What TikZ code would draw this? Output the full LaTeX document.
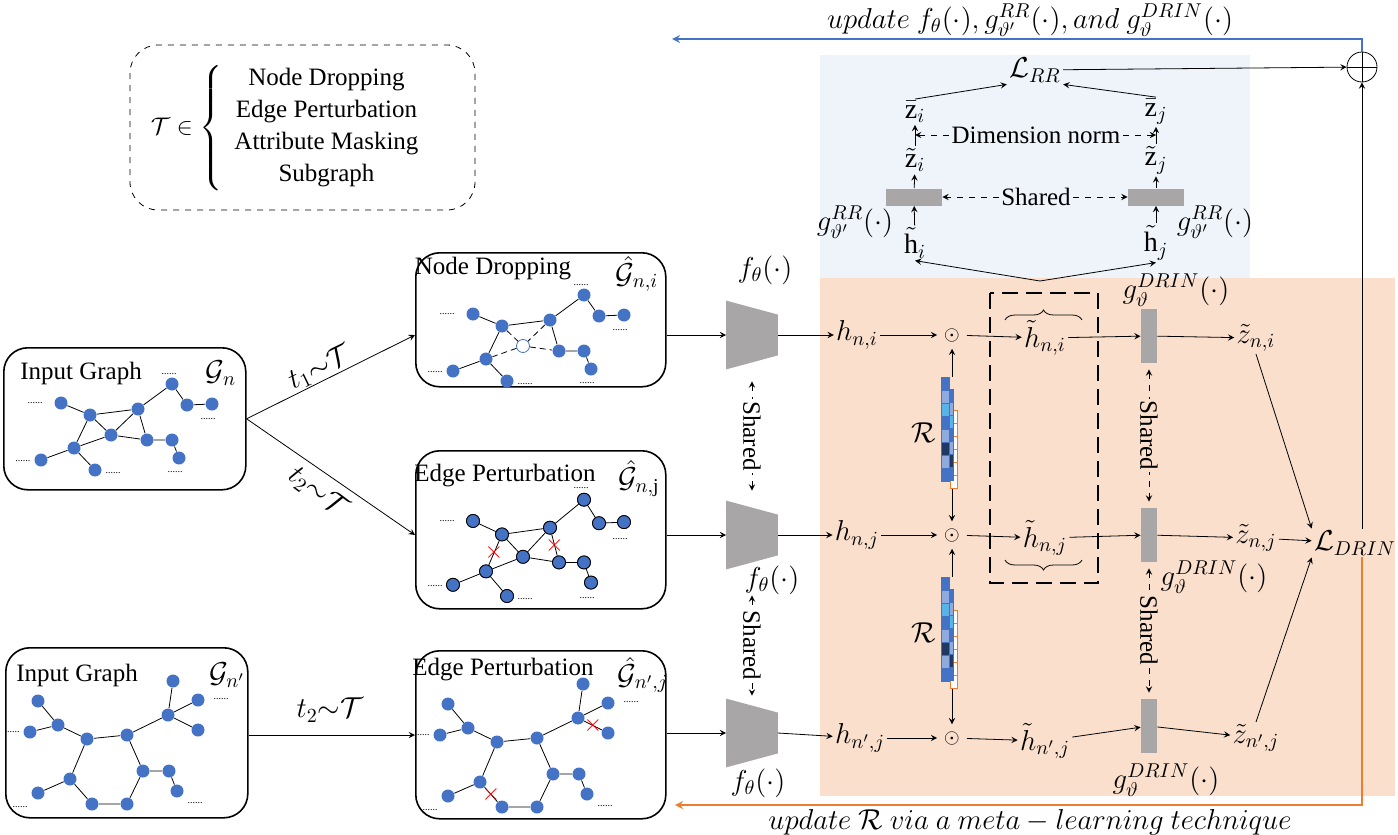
\documentclass[tikz,border=0pt]{standalone}
\usepackage{fontspec}
\setmainfont{Liberation Serif}
\usepackage{amssymb}
\usepackage{amsmath}
\usetikzlibrary{calc,positioning,decorations.pathreplacing}
\definecolor{nodeblue}{RGB}{68,114,196}
\definecolor{orangebg}{RGB}{250,224,204}
\definecolor{bluebg}{RGB}{238,244,250}
\definecolor{lineblue}{RGB}{68,114,196}
\definecolor{lineorange}{RGB}{237,125,49}
\definecolor{barg}{RGB}{168,166,166}
\definecolor{rdark}{RGB}{31,56,100}
\definecolor{rmid}{RGB}{68,114,196}
\definecolor{rlight}{RGB}{143,170,220}
\definecolor{rcyan}{RGB}{86,180,233}
\definecolor{rbrown}{RGB}{197,90,17}
\tikzset{
  gbox/.style={draw,thick,rounded corners=12pt,inner sep=0,anchor=north west},
  gn/.style={circle,fill=nodeblue,inner sep=0,minimum size=6.5pt},
  gnb/.style={gn,draw=black,thin},
  gno/.style={circle,draw=nodeblue,fill=white,inner sep=0,minimum size=6.5pt},
  gdots/.style={font=\tiny,inner sep=0},
  cut/.style={text=red,inner sep=0,font=\large},
  lab/.style={font=\fontsize{12.5}{14}\selectfont,inner sep=1pt},
  mlab/.style={font=\fontsize{14}{16}\selectfont,inner sep=1pt},
  enc/.style={inner sep=0,minimum width=25.5pt,minimum height=34pt},
  bar/.style={fill=barg,inner sep=0,minimum width=8pt,minimum height=27pt},
  rrbar/.style={fill=barg,inner sep=0,minimum width=28pt,minimum height=8.5pt},
  arr/.style={->,>=stealth},
  sh/.style={<->,>=stealth,dashed,thin},
}
% layout of the first graph (local coordinates in the box)
\newcommand{\graphone}[1]{%
  \foreach \n/\x/\y in {A/58/58,B/87/70,C/135/64,D/169/39,E/184/60,F/209/59,H/144/95,I/169/95,J/176/113,K/71/103,L/38/115,M/92/125}
    \node[#1] (\n) at (\x,\y) {};
  \node[gdots] at (32,58) {......};
  \node[gdots] at (166,29) {......};
  \node[gdots] at (205,74) {......};
  \node[gdots] at (172,127) {......};
  \node[gdots] at (20,116) {......};
  \node[gdots] at (110,128) {......};
}
% layout of the second graph
\newcommand{\graphtwo}{%
  \foreach \n/\x/\y in {a/33/54,b/25/85,c/53/78,d/82/92,e/122/88,f/163/68,g/168/34,h/193/53,i/193/83,j/65/132,k/33/146,l/87/157,m/122/157,n/138/124,o/164/124,p/172/144}
    \node[gn] (\n) at (\x,\y) {};
  \draw (a)--(c) (b)--(c) (c)--(d) (d)--(e) (e)--(f) (f)--(g) (f)--(h) (f)--(i)
        (d)--(j) (j)--(k) (j)--(l) (l)--(m) (m)--(n) (e)--(n) (n)--(o) (o)--(p);
  \node[gdots] at (7,85) {......};
  \node[gdots] at (216,52) {......};
  \node[gdots] at (15,160) {......};
  \node[gdots] at (190,156) {......};
}
\begin{document}
\begin{tikzpicture}[x=0.5pt,y=-0.5pt]
\useasboundingbox (0,0) rectangle (1398,835);
% backgrounds
\fill[bluebg] (820,55) rectangle (1250,278);
\fill[orangebg] (820,278) rectangle (1395,796);

% augmentation set
\draw[dashed,rounded corners=14pt] (130,45) rectangle (475,210);
\node (tset) at (188,128) {\fontsize{13}{15}\selectfont$\mathcal{T}\in\left\{\rule{0pt}{33pt}\right.$};
\node[lab,right=0pt of tset,align=center] (tlist) {Node Dropping\\[2pt]Edge Perturbation\\[2pt]Attribute Masking\\[2pt]Subgraph};

% graph boxes
\node[gbox,minimum width=121pt,minimum height=71pt] (in1) at (3,347) {};
\node[gbox,minimum width=125pt,minimum height=67pt] (nd) at (415,252) {};
\node[gbox,minimum width=125pt,minimum height=79pt] (ep) at (415,450) {};
\node[gbox,minimum width=121pt,minimum height=85pt] (in2) at (5,647) {};
\node[gbox,minimum width=125pt,minimum height=84pt] (ep2) at (415,650) {};

\begin{scope}[shift={(3,345)}]
  \graphone{gn}
  \draw (A)--(B) (B)--(C) (C)--(D) (D)--(E) (E)--(F) (C)--(H) (H)--(I) (I)--(J) (B)--(K) (K)--(L) (K)--(M);
  \node[gn] (G) at (108,90) {};
  \draw (B)--(G) (C)--(G) (G)--(H) (G)--(K);
  \node[lab] at (78,28) {Input Graph};
  \node[mlab] at (218,28) {$\mathcal{G}_n$};
\end{scope}
\begin{scope}[shift={(415,256)}]
  \graphone{gn}
  \draw (A)--(B) (B)--(C) (C)--(D) (D)--(E) (E)--(F) (C)--(H) (H)--(I) (I)--(J) (B)--(K) (K)--(L) (K)--(M);
  \node[gno] (G) at (108,90) {};
  \draw[densely dashed] (B)--(G) (C)--(G) (G)--(H) (G)--(K);
  \node[lab] at (78,13) {Node Dropping};
  \node[mlab] at (222,18) {$\hat{\mathcal{G}}_{n,i}$};
\end{scope}
\begin{scope}[shift={(415,456)},yscale=1.12]
  \graphone{gnb}
  \draw (A)--(B) (B)--(C) (C)--(D) (D)--(E) (E)--(F) (C)--(H) (H)--(I) (I)--(J) (B)--(K) (K)--(L) (K)--(M);
  \node[gnb] (G) at (108,90) {};
  \draw (B)--(G) (C)--(G) (G)--(H) (G)--(K);
  \foreach \n in {A,...,F,G,H,I,J,K,L,M} \node[gnb] at (\n) {};
  \node[cut] at ($(B)!0.5!(K)$) {$\times$};
  \node[cut] at ($(C)!0.5!(H)$) {$\times$};
  \node[lab] at (90,17) {Edge Perturbation};
  \node[mlab] at (224,20) {$\hat{\mathcal{G}}_{n,\mathrm{j}}$};
\end{scope}
\begin{scope}[shift={(5,647)}]
  \graphtwo
  \node[lab] at (72,28) {Input Graph};
  \node[mlab] at (222,28) {$\mathcal{G}_{n'}$};
\end{scope}
\begin{scope}[shift={(415,650)}]
  \graphtwo
  \node[cut] at ($(f)!0.5!(i)$) {$\times$};
  \node[cut] at ($(j)!0.5!(l)$) {$\times$};
  \node[lab] at (88,20) {Edge Perturbation};
  \node[mlab] at (228,25) {$\hat{\mathcal{G}}_{n',j}$};
\end{scope}

% augmentations
\draw[arr] (in1.east) -- (nd.west |- 0,335) coordinate (ndin);
\draw[arr] (in1.east) -- (ep.west |- 0,535) coordinate (epin);
\draw[arr] (in2.east |- 0,735) coordinate (in2out) -- (ep2.west |- 0,735);
\node[mlab,rotate=26] at (320,368) {$t_1{\sim}\mathcal{T}$};
\node[mlab,rotate=-37] at (318,492) {$t_2{\sim}\mathcal{T}$};
\node[mlab] at (330,710) {$t_2{\sim}\mathcal{T}$};

% encoders
\foreach \r/\y in {i/335,j/535,k/733}{
  \node[enc] (f\r) at (752,\y) {};
  \fill[barg] (f\r.north west) -- ($(f\r.north east)+(0,14)$) -- ($(f\r.south east)+(0,-14)$) -- (f\r.south west) -- cycle;
}
\draw[arr] (nd.east |- fi) -- (fi.west);
\draw[arr] (ep.east |- fj) -- (fj.west);
\draw[arr] (ep2.east |- fk) -- (fk.west);
\node[mlab] at (765,270) {$f_{\theta}(\cdot)$};
\node[mlab] at (772,580) {$f_{\theta}(\cdot)$};
\node[mlab] at (758,783) {$f_{\theta}(\cdot)$};
\draw[sh] ($(fi.south)+(0,12)$) -- ($(fj.north)+(0,-10)$) node[midway,sloped,fill=white,inner sep=1pt,font=\fontsize{12.5}{14}\selectfont] {Shared};
\draw[sh] ($(fj.south)+(0,26)$) -- ($(fk.north)+(0,-3)$) node[midway,sloped,fill=white,inner sep=1pt,font=\fontsize{12.5}{14}\selectfont] {Shared};

% rows
\node[mlab] (hi) at (857,335) {$h_{n,i}$};
\node[mlab] (hj) at (857,535) {$h_{n,j}$};
\node[mlab] (hk) at (860,738) {$h_{n',j}$};
\node (oi) at (952,335) {$\odot$};
\node (oj) at (952,535) {$\odot$};
\node (ok) at (952,738) {$\odot$};
\node[mlab] (thi) at (1045,338) {$\tilde{h}_{n,i}$};
\node[mlab] (thj) at (1045,538) {$\tilde{h}_{n,j}$};
\node[mlab] (thk) at (1045,741) {$\tilde{h}_{n',j}$};
\node[bar] (gi) at (1149,336) {};
\node[bar] (gj) at (1149,535) {};
\node[bar] (gk) at (1149,726) {};
\node[mlab] (zi) at (1256,338) {$\tilde{z}_{n,i}$};
\node[mlab] (zj) at (1256,538) {$\tilde{z}_{n,j}$};
\node[mlab] (zk) at (1256,738) {$\tilde{z}_{n',j}$};
\node[mlab] (ld) at (1355,543) {$\mathcal{L}_{DRIN}$};
\foreach \r in {i,j,k}{
  \draw[arr] (f\r.east) -- (h\r);
  \draw[arr] (h\r) -- (o\r);
  \draw[arr] (o\r) -- (th\r);
  \draw[arr] (th\r) -- (g\r);
  \draw[arr] (g\r) -- (z\r);
}
\draw[arr] (zi.south) -- (ld.north west);
\draw[arr] (zj) -- (ld);
\draw[arr] (zk.north) -- (ld.south west);
\node[mlab] at (1176,290) {$g_{\vartheta}^{DRIN}(\cdot)$};
\node[mlab] at (1214,577) {$g_{\vartheta}^{DRIN}(\cdot)$};
\node[mlab] at (1166,780) {$g_{\vartheta}^{DRIN}(\cdot)$};
\draw[sh] ($(gi.south)+(0,6)$) -- ($(gj.north)+(0,-6)$) node[midway,sloped,fill=orangebg,inner sep=1pt,font=\fontsize{12.5}{14}\selectfont] {Shared};
\draw[sh] ($(gj.south)+(0,6)$) -- ($(gk.north)+(0,-6)$) node[midway,sloped,fill=orangebg,inner sep=1pt,font=\fontsize{12.5}{14}\selectfont] {Shared};

% R matrices
\foreach \y/\nm in {377/r1,577/r2}{
  \foreach \k in {0,...,5} \draw[lineorange,fill=white] (950,\y+33+\k*13) rectangle ++(7,13);
  \foreach \k/\c in {0/rmid,1/rlight,2/rcyan,3/rmid,4/rlight,5/rdark,6/rmid}
    \draw[rmid,fill=\c] (945,\y+12+\k*13) rectangle ++(8,13);
  \foreach \k/\c in {0/rmid,1/rlight,2/rcyan,3/rmid,4/rlight,5/rdark,6/rlight,7/rmid}
    \draw[rmid,fill=\c] (941,\y+\k*13) rectangle ++(8,13);
  \node[inner sep=0,minimum width=8pt,minimum height=56pt] (\nm) at (949,\y+56) {};
  \node[mlab,left=1pt of \nm] {$\mathcal{R}$};
}
\draw[arr] (r1.north -| oi) -- (oi);
\draw[arr] (r1.south -| oi) -- (oj);
\draw[arr] (r2.north -| oj) -- (oj);
\draw[arr] (r2.south -| ok) -- (ok);

% dashed group box and braces
\draw[dash pattern=on 8pt off 4pt,line width=1.1pt] (990,293) rectangle (1098,583);
\draw[decorate,decoration={brace,amplitude=5pt}] (1005,320) -- (1082,320);
\draw[decorate,decoration={brace,amplitude=5pt,mirror}] (1005,560) -- (1082,560);

% RR branch
\coordinate (ap) at (1040,281);
\node[mlab] (hti) at (915,243) {$\tilde{\mathrm{h}}_i$};
\node[mlab] (htj) at (1156,243) {$\tilde{\mathrm{h}}_j$};
\node[rrbar] (ri) at (914,197) {};
\node[rrbar] (rj) at (1156,197) {};
\node[mlab] (zti) at (915,160) {$\tilde{\mathrm{z}}_i$};
\node[mlab] (ztj) at (1156,160) {$\tilde{\mathrm{z}}_j$};
\node[mlab] (zbi) at (915,112) {$\bar{\mathrm{z}}_i$};
\node[mlab] (zbj) at (1156,112) {$\bar{\mathrm{z}}_j$};
\node[mlab] (lrr) at (1035,70) {$\mathcal{L}_{RR}$};
\node[circle,draw,inner sep=0,minimum size=15pt,path picture={\draw (path picture bounding box.north)--(path picture bounding box.south) (path picture bounding box.west)--(path picture bounding box.east);}] (plus) at (1362,67) {};
\draw[arr] (ap) -- (hti.south);
\draw[arr] (ap) -- (htj.south);
\draw[arr] (hti) -- (ri);
\draw[arr] (htj) -- (rj);
\draw[arr] (ri) -- (zti);
\draw[arr] (rj) -- (ztj);
\draw[arr] (zti) -- (zbi);
\draw[arr] (ztj) -- (zbj);
\draw[arr] (zbi.north) -- (lrr.south west);
\draw[arr] (zbj.north) -- (lrr.south east);
\node[lab] (dn) at (1036,135) {Dimension norm};
\draw[->,>=stealth,dashed,thin] (dn) -- (dn -| zti);
\draw[->,>=stealth,dashed,thin] (dn) -- (dn -| ztj);
\node[lab] (sr) at (1036,197) {Shared};
\draw[->,>=stealth,dashed,thin] (sr) -- (ri);
\draw[->,>=stealth,dashed,thin] (sr) -- (rj);
\node[mlab] at (855,222) {$g_{\vartheta'}^{RR}(\cdot)$};
\node[mlab] at (1215,222) {$g_{\vartheta'}^{RR}(\cdot)$};

% losses and updates
\draw[arr] (lrr) -- (plus);
\draw[arr] (ld.north -| plus) -- (plus.south);
\coordinate (bu) at (672,39);
\coordinate (bo) at (675,805);
\draw[lineblue,thick,->,>=stealth] (plus.north) |- (bu);
\draw[lineorange,thick,->,>=stealth] (ld.south -| plus) |- (bo);
\node[mlab] at (1030,20) {$update\ f_{\theta}(\cdot), g_{\vartheta'}^{RR}(\cdot), and\ g_{\vartheta}^{DRIN}(\cdot)$};
\node[mlab] at (1030,822) {$update\ \mathcal{R}\ via\ a\ meta-learning\ technique$};
\end{tikzpicture}
\end{document}
